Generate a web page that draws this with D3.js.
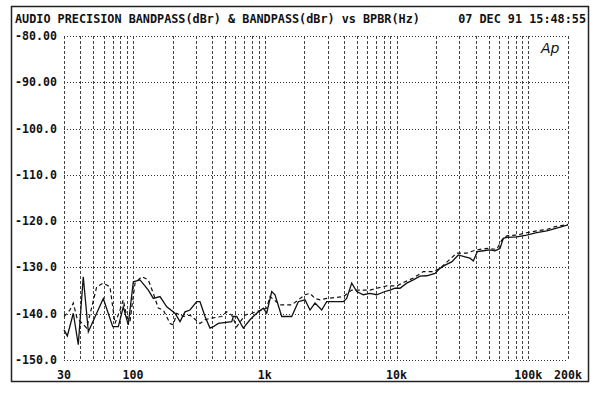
<!DOCTYPE html>
<html>
<head>
<meta charset="utf-8">
<script src="https://cdn.jsdelivr.net/npm/d3@7"></script>
<style>
  body { margin: 0; background: #fff; }
  svg text { font-family: "DejaVu Sans Mono", "Liberation Mono", monospace; font-weight: bold; fill: #111; }
</style>
</head>
<body>
<svg id="chart" width="600" height="393"></svg>
<script>
// solid trace: [Hz, dBr]
var solidFreq = [30, 31.8, 35.3, 38.5, 42.0, 45.9, 59.6, 70.3, 77.5, 84.5, 92.2, 100.7, 113.2, 130.9, 142.8, 160.5, 180.5, 208.6, 227.7, 248.4, 271,
    304.8, 322.8, 352.5, 384.4, 407.4, 444.6, 561.9, 577.6, 612.9, 687.9, 773.2, 869.4, 975.6, 1035, 1130, 1197, 1346, 1602, 1798, 2021, 2206,
    2408, 2706, 2952, 3948, 4188, 4572, 4989, 5598, 6294, 7074, 8178, 8922, 9741, 10626, 11950, 13404, 15070, 16943, 19585, 21375, 23330,
    26226, 29430, 33090, 36090, 38250, 41010, 45540, 51210, 55890, 60960, 64590, 68550, 81630, 97200, 115800, 137900, 164200, 200000];
var solidDb = [-143.5, -144.8, -139.9, -146.7, -132.0, -143.9, -136.7, -142.8, -142.8, -138.5, -142.4, -133.1, -132.7, -134.9, -136.7, -136.3, -138.5, -139.9, -141.7, -139.6, -139.2,
    -137.4, -137.4, -140.6, -143.1, -142.8, -142.1, -141.7, -140.6, -140.6, -143.1, -141.3, -139.9, -138.8, -139.9, -135.2, -135.9, -140.6, -140.6, -137.4, -137.0, -139.2,
    -137.7, -139.2, -137.4, -137.4, -136.7, -133.4, -135.2, -135.9, -135.6, -135.9, -135.2, -134.9, -134.5, -134.5, -133.4, -132.7, -131.9, -131.8, -131.3, -130.2, -129.5,
    -128.8, -127.3, -127.7, -128.0, -128.6, -126.6, -126.4, -126.2, -126.4, -125.9, -123.7, -123.5, -123.4, -123.0, -122.5, -122.1, -121.5, -120.8];

// dashed trace
var dashFreq = [30, 33.3, 35.3, 37.6, 44.6, 53.1, 59.6, 67.0, 73.1, 79.8, 84.5, 89.7, 95.0, 103.7, 116.6, 130.9, 142.8, 155.8, 170.0, 191.1, 202.5, 214.9, 241.2, 271,
    322.8, 352.5, 384.4, 471.7, 514.8, 561.9, 612.9, 708.7, 796.8, 948.7, 1035, 1097, 1306, 1602, 1798, 2021, 2206, 2408, 2627, 2952, 3948, 4572, 5283, 6294,
    7074, 8424, 10035, 11600, 13404, 15970, 19016, 21375, 28620, 34080, 40590, 48330, 57570, 62820, 68550, 81630, 97200, 115800, 137900, 159400, 200000];
var dashDb = [-140.6, -139.2, -137.7, -140.9, -143.1, -134.2, -133.4, -134.2, -142.1, -139.2, -137.0, -140.6, -141.7, -133.4, -132.0, -132.7, -135.6, -138.8, -139.2, -142.1, -142.4, -139.9, -140.6, -140.3,
    -142.1, -141.3, -141.0, -140.6, -139.6, -140.3, -142.8, -140.3, -139.9, -139.2, -138.8, -136.3, -138.1, -138.1, -137.0, -135.9, -135.6, -136.7, -137.0, -136.7, -136.3, -134.9, -134.9, -134.9,
    -134.5, -134.0, -134.0, -133.1, -132.3, -130.9, -130.9, -130.2, -126.9, -126.9, -126.2, -125.9, -126.1, -124.1, -123.2, -123.0, -122.5, -122.1, -121.8, -121.2, -120.7];

var yTicks = [-80, -90, -100, -110, -120, -130, -140, -150];
var yTickLabels = ["-80.00", "-90.00", "-100.0", "-110.0", "-120.0", "-130.0", "-140.0", "-150.0"];
var xTicks = [30, 100, 1000, 10000, 100000, 200000];
var xTickLabels = ["30", "100", "1k", "10k", "100k", "200k"];
var titleText = "AUDIO PRECISION BANDPASS(dBr) & BANDPASS(dBr) vs BPBR(Hz)";
var dateText = "07 DEC 91 15:48:55";

(function () {
    var pLeft = 64, pRight = 568, pTop = 36, pBottom = 360;

    var x = d3.scaleLog().domain([30, 200000]).range([pLeft, pRight]);
    var y = d3.scaleLinear().domain([-150, -80]).range([pBottom, pTop]);

    var svg = d3.select("#chart");

    // outer frame
    svg.append("rect")
        .attr("x", 11.5).attr("y", 6.5)
        .attr("width", 577).attr("height", 375)
        .attr("fill", "none")
        .attr("stroke", "#222")
        .attr("stroke-width", 1.5);

    // vertical grid: 1..9 per decade
    var vLines = [];
    for (var dec = 10; dec <= 100000; dec *= 10) {
        for (var m = 1; m <= 9; m++) {
            var f = dec * m;
            if (f >= 30 && f <= 200000) vLines.push(f);
        }
    }

    svg.selectAll(".vgrid")
        .data(vLines)
        .enter()
        .append("line")
        .attr("class", "vgrid")
        .attr("x1", function (d) { return Math.round(x(d)) + 0.5; })
        .attr("x2", function (d) { return Math.round(x(d)) + 0.5; })
        .attr("y1", pTop)
        .attr("y2", pBottom)
        .attr("stroke", "#444")
        .attr("stroke-width", 1)
        .attr("stroke-dasharray", "3,2");

    svg.selectAll(".hgrid")
        .data(yTicks)
        .enter()
        .append("line")
        .attr("class", "hgrid")
        .attr("x1", pLeft)
        .attr("x2", pRight)
        .attr("y1", function (d) { return Math.round(y(d)) + 0.5; })
        .attr("y2", function (d) { return Math.round(y(d)) + 0.5; })
        .attr("stroke", "#333")
        .attr("stroke-width", 1)
        .attr("stroke-dasharray", "1,2");

    // y labels
    svg.selectAll(".ylab")
        .data(yTicks)
        .enter()
        .append("text")
        .attr("class", "ylab")
        .attr("x", 15)
        .attr("y", function (d) { return y(d) + 4; })
        .attr("font-size", "11.6px")
        .text(function (d, i) { return yTickLabels[i]; });

    // x labels
    svg.selectAll(".xlab")
        .data(xTicks)
        .enter()
        .append("text")
        .attr("class", "xlab")
        .attr("x", function (d) { return x(d); })
        .attr("y", 378.5)
        .attr("text-anchor", "middle")
        .attr("font-size", "11.6px")
        .text(function (d, i) { return xTickLabels[i]; });

    svg.append("text")
        .attr("x", 15)
        .attr("y", 23)
        .attr("font-size", "11.8px")
        .text(titleText);

    svg.append("text")
        .attr("x", 586)
        .attr("y", 23)
        .attr("text-anchor", "end")
        .attr("font-size", "11.8px")
        .text(dateText);

    svg.append("text")
        .attr("x", 541)
        .attr("y", 53)
        .style("font-family", "'DejaVu Sans', sans-serif")
        .style("font-style", "italic")
        .style("font-weight", "normal")
        .attr("font-size", "14px")
        .text("Ap");

    var line = d3.line()
        .x(function (d) { return x(d[0]); })
        .y(function (d) { return y(d[1]); });

    var solid = d3.zip(solidFreq, solidDb);
    var dashed = d3.zip(dashFreq, dashDb);

    svg.append("path")
        .attr("d", line(dashed))
        .attr("fill", "none")
        .attr("stroke", "#111")
        .attr("stroke-width", 1.2)
        .attr("stroke-dasharray", "4,3");

    svg.append("path")
        .attr("d", line(solid))
        .attr("fill", "none")
        .attr("stroke", "#111")
        .attr("stroke-width", 1.3);
})();
</script>
</body>
</html>
